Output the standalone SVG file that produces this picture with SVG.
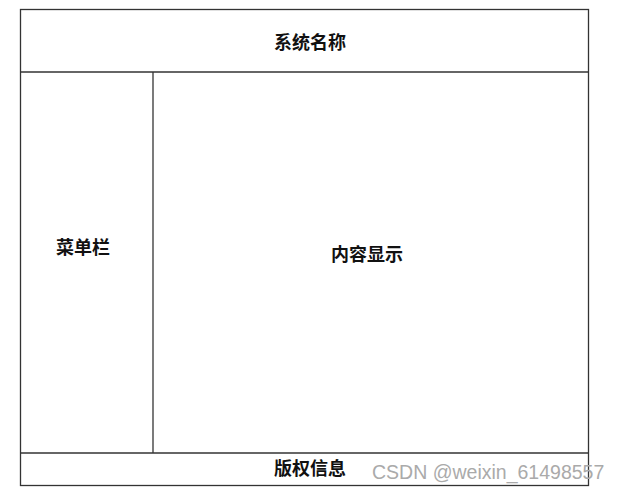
<svg xmlns="http://www.w3.org/2000/svg" width="618" height="491" viewBox="0 0 618 491">
<style>
.ln{stroke:#333;stroke-width:1.3;fill:none}
.t{font-family:"Noto Sans CJK SC","Noto Sans",sans-serif;font-size:18px;font-weight:bold;fill:#111;text-anchor:middle;dominant-baseline:central}
.wm{font-family:"Liberation Sans",Arial,sans-serif;font-size:19.5px;fill:#aaa}
</style>
<rect width="618" height="491" fill="#fff"/>
<g id="frame">
<rect class="ln" x="20.5" y="9.5" width="568" height="476"/>
</g>
<g id="connectors">
<line class="ln" x1="20.5" y1="72" x2="588.5" y2="72"/>
<line class="ln" x1="153" y1="72" x2="153" y2="453"/>
<line class="ln" x1="20.5" y1="453" x2="588.5" y2="453"/>
</g>
<g id="header"><text class="t" x="310" y="41">系统名称</text></g>
<g id="menu"><text class="t" x="83" y="246">菜单栏</text></g>
<g id="content"><text class="t" x="367" y="253">内容显示</text></g>
<g id="footer"><text class="t" x="310" y="467">版权信息</text></g>
<text class="wm" x="372" y="479">CSDN @weixin_61498557</text>
</svg>
